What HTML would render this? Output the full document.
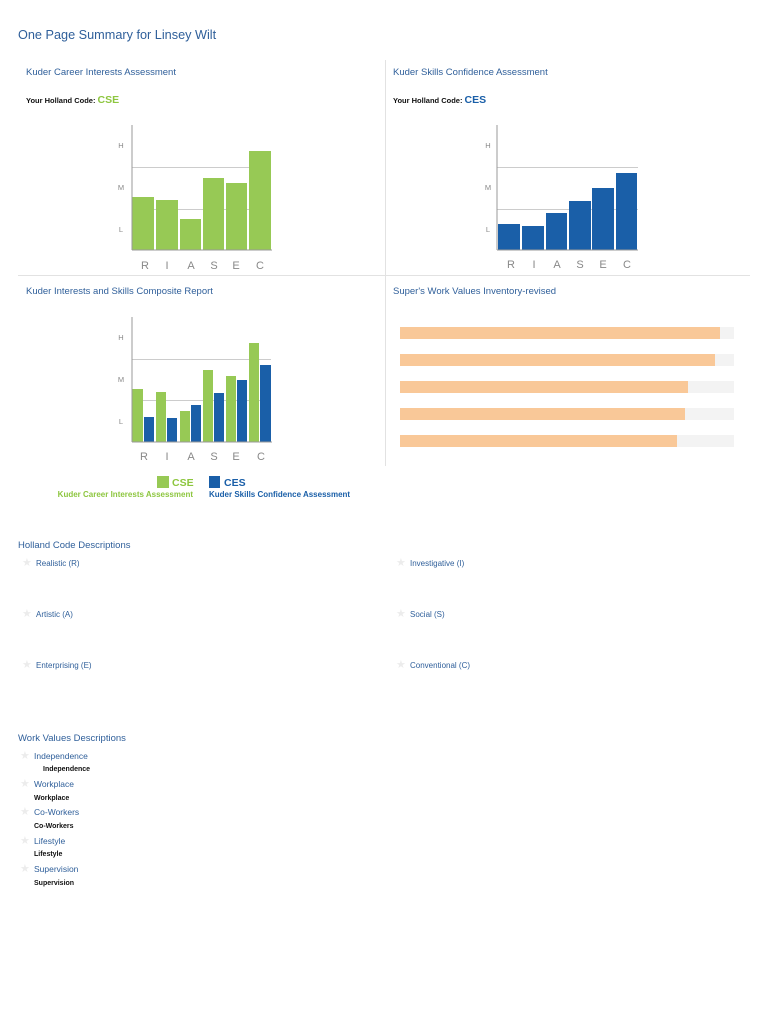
<!DOCTYPE html>
<html><head><meta charset="utf-8"><style>
html,body{margin:0;padding:0;background:#fff;}
svg{display:block;}
text{font-family:"Liberation Sans",Arial,sans-serif;}
</style></head><body>
<svg width="768" height="1024" xmlns="http://www.w3.org/2000/svg">
<rect width="768" height="1024" fill="#fff"/>
<text x="18" y="39" font-size="12.7" fill="#2f5f9a">One Page Summary for Linsey Wilt</text>
<line x1="385.5" y1="60" x2="385.5" y2="466" stroke="#e2e2e2"/>
<line x1="18" y1="275.5" x2="750" y2="275.5" stroke="#e2e2e2"/>

<text x="26" y="75" font-size="9.5" fill="#2f5f9a">Kuder Career Interests Assessment</text>
<text x="26" y="103" font-size="7.5" font-weight="bold" fill="#111">Your Holland Code: <tspan font-size="10.5" fill="#8dc63f">CSE</tspan></text>
<text x="393" y="75" font-size="9.5" fill="#2f5f9a">Kuder Skills Confidence Assessment</text>
<text x="393" y="103" font-size="7.5" font-weight="bold" fill="#111">Your Holland Code: <tspan font-size="10.5" fill="#1a5fa8">CES</tspan></text>

<!-- chart 1 -->
<g>
<line x1="132" y1="167.5" x2="271" y2="167.5" stroke="#ccc"/>
<line x1="132" y1="209.5" x2="271" y2="209.5" stroke="#ccc"/>
<g fill="#97c955">
<rect x="132" y="197" width="22" height="53"/>
<rect x="156" y="200" width="22" height="50"/>
<rect x="180" y="219" width="21" height="31"/>
<rect x="203" y="178" width="21" height="72"/>
<rect x="226" y="183" width="21" height="67"/>
<rect x="249" y="151" width="22" height="99"/>
</g>
<line x1="132" y1="125" x2="132" y2="250" stroke="#999"/>
<line x1="132" y1="250" x2="272" y2="250" stroke="#999"/>
<g font-size="7.5" fill="#888" text-anchor="middle"><text x="121" y="148">H</text><text x="121" y="190">M</text><text x="121" y="232">L</text></g>
<g font-size="11" fill="#888" text-anchor="middle"><text x="145" y="269">R</text><text x="167" y="269">I</text><text x="191" y="269">A</text><text x="214" y="269">S</text><text x="236" y="269">E</text><text x="260" y="269">C</text></g>
</g>

<!-- chart 2 -->
<g>
<line x1="497" y1="167.5" x2="638" y2="167.5" stroke="#ccc"/>
<line x1="497" y1="209.5" x2="638" y2="209.5" stroke="#ccc"/>
<g fill="#1a5fa8">
<rect x="498" y="224" width="22" height="26"/>
<rect x="522" y="226" width="22" height="24"/>
<rect x="546" y="213" width="21" height="37"/>
<rect x="569" y="201" width="22" height="49"/>
<rect x="592" y="188" width="22" height="62"/>
<rect x="616" y="173" width="21" height="77"/>
</g>
<line x1="497" y1="125" x2="497" y2="250" stroke="#999"/>
<line x1="497" y1="250" x2="638" y2="250" stroke="#999"/>
<g font-size="7.5" fill="#888" text-anchor="middle"><text x="488" y="148">H</text><text x="488" y="190">M</text><text x="488" y="232">L</text></g>
<g font-size="11" fill="#888" text-anchor="middle"><text x="511" y="268">R</text><text x="534" y="268">I</text><text x="557" y="268">A</text><text x="580" y="268">S</text><text x="603" y="268">E</text><text x="627" y="268">C</text></g>
</g>

<text x="26" y="294" font-size="9.5" fill="#2f5f9a">Kuder   Interests and Skills Composite Report</text>
<text x="393" y="294" font-size="9.5" fill="#2f5f9a">Super's Work Values Inventory-revised</text>

<!-- chart 3 -->
<g>
<line x1="132" y1="359.5" x2="271" y2="359.5" stroke="#ccc"/>
<line x1="132" y1="400.5" x2="271" y2="400.5" stroke="#ccc"/>
<g fill="#97c955">
<rect x="132" y="389" width="11" height="53"/>
<rect x="156" y="392" width="10" height="50"/>
<rect x="180" y="411" width="10" height="31"/>
<rect x="203" y="370" width="10" height="72"/>
<rect x="226" y="376" width="10" height="66"/>
<rect x="249" y="343" width="10" height="99"/>
</g>
<g fill="#1a5fa8">
<rect x="144" y="417" width="10" height="25"/>
<rect x="167" y="418" width="10" height="24"/>
<rect x="191" y="405" width="10" height="37"/>
<rect x="214" y="393" width="10" height="49"/>
<rect x="237" y="380" width="10" height="62"/>
<rect x="260" y="365" width="11" height="77"/>
</g>
<line x1="132" y1="317" x2="132" y2="442" stroke="#999"/>
<line x1="132" y1="442" x2="272" y2="442" stroke="#999"/>
<g font-size="7.5" fill="#888" text-anchor="middle"><text x="121" y="340">H</text><text x="121" y="382">M</text><text x="121" y="424">L</text></g>
<g font-size="11" fill="#888" text-anchor="middle"><text x="144" y="460">R</text><text x="167" y="460">I</text><text x="191" y="460">A</text><text x="214" y="460">S</text><text x="236" y="460">E</text><text x="261" y="460">C</text></g>
<rect x="157" y="476" width="12" height="12" fill="#97c955"/>
<text x="172" y="486" font-size="10.5" font-weight="bold" fill="#8dc63f">CSE</text>
<rect x="209" y="476" width="11" height="12" fill="#1a5fa8"/>
<text x="224" y="486" font-size="10.5" font-weight="bold" fill="#1a5fa8">CES</text>
<text x="193" y="497" font-size="8" font-weight="bold" fill="#8dc63f" text-anchor="end">Kuder Career Interests Assessment</text>
<text x="209" y="497" font-size="8" font-weight="bold" fill="#1a5fa8">Kuder Skills Confidence Assessment</text>
</g>

<!-- work values bars -->
<g>
<rect x="400" y="327" width="334" height="12" fill="#f3f3f3"/><rect x="400" y="327" width="320" height="12" fill="#f9c898"/>
<rect x="400" y="354" width="334" height="12" fill="#f3f3f3"/><rect x="400" y="354" width="315" height="12" fill="#f9c898"/>
<rect x="400" y="381" width="334" height="12" fill="#f3f3f3"/><rect x="400" y="381" width="288" height="12" fill="#f9c898"/>
<rect x="400" y="408" width="334" height="12" fill="#f3f3f3"/><rect x="400" y="408" width="285" height="12" fill="#f9c898"/>
<rect x="400" y="435" width="334" height="12" fill="#f3f3f3"/><rect x="400" y="435" width="277" height="12" fill="#f9c898"/>
</g>

<text x="18" y="548" font-size="9.5" fill="#2f5f9a">Holland Code Descriptions</text>
<g font-size="8" fill="#2f5f9a">
<text x="22" y="566" fill="#ececec" font-size="11">★</text><text x="36" y="566">Realistic (R)</text>
<text x="22" y="617" fill="#ececec" font-size="11">★</text><text x="36" y="617">Artistic (A)</text>
<text x="22" y="668" fill="#ececec" font-size="11">★</text><text x="36" y="668">Enterprising (E)</text>
<text x="396" y="566" fill="#ececec" font-size="11">★</text><text x="410" y="566">Investigative (I)</text>
<text x="396" y="617" fill="#ececec" font-size="11">★</text><text x="410" y="617">Social (S)</text>
<text x="396" y="668" fill="#ececec" font-size="11">★</text><text x="410" y="668">Conventional (C)</text>
</g>

<text x="18" y="741" font-size="9.5" fill="#2f5f9a">Work Values Descriptions</text>
<g font-size="8.5" fill="#2f5f9a">
<text x="20" y="759" fill="#ececec" font-size="11">★</text><text x="34" y="759">Independence</text>
<text x="20" y="787" fill="#ececec" font-size="11">★</text><text x="34" y="787">Workplace</text>
<text x="20" y="815" fill="#ececec" font-size="11">★</text><text x="34" y="815">Co-Workers</text>
<text x="20" y="844" fill="#ececec" font-size="11">★</text><text x="34" y="844">Lifestyle</text>
<text x="20" y="872" fill="#ececec" font-size="11">★</text><text x="34" y="872">Supervision</text>
</g>
<g font-size="7" font-weight="bold" fill="#111">
<text x="43" y="771">Independence</text>
<text x="34" y="800">Workplace</text>
<text x="34" y="828">Co-Workers</text>
<text x="34" y="856">Lifestyle</text>
<text x="34" y="885">Supervision</text>
</g>
</svg>
</body></html>
